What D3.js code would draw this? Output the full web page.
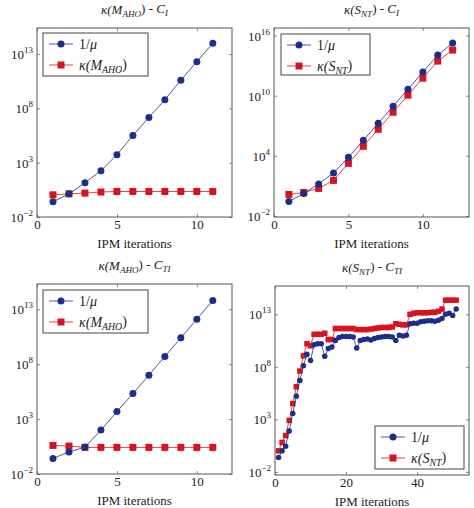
<!DOCTYPE html>
<html><head><meta charset="utf-8">
<script src="https://cdn.jsdelivr.net/npm/d3@7"></script>
<style>body{margin:0;background:#fff}text{font-family:"Liberation Serif","DejaVu Serif",serif;fill:#222}</style>
</head><body><svg id="c" width="474" height="508"></svg>
<script>
// log10 values
const itA = d3.range(1,12);
const aho_I_mu = [-0.6,0.13,1.15,2.26,3.74,5.5,7.17,8.8,10.6,12.3,14.0];
const aho_I_k  = [0.04,0.13,0.2,0.3,0.35,0.35,0.35,0.35,0.35,0.35,0.35];
const itB = d3.range(1,13);
const snt_I_mu = [-0.55,0.25,1.2,2.3,3.85,5.55,7.25,8.95,10.65,12.35,14.05,15.25];
const snt_I_k  = [0.15,0.35,0.75,1.55,3.25,4.95,6.65,8.35,10.05,11.75,13.45,14.55];
const aho_T_mu = [-0.58,0.0,0.45,2.0,3.68,5.32,7.0,8.7,10.4,12.1,13.8];
const aho_T_k  = [0.6,0.54,0.42,0.42,0.42,0.42,0.42,0.42,0.42,0.42,0.42];
const itD = d3.range(1,52);
const snt_T_mu = [-0.63,0.0,0.45,1.9,3.55,5.2,6.7,8.1,9.2,8.6,10.1,10.2,10.2,9.0,9.75,9.9,10.5,10.8,10.9,10.9,10.9,10.85,9.8,10.5,10.6,10.65,10.55,10.7,10.8,10.85,10.9,10.9,10.85,10.5,11.0,10.95,11.0,12.1,12.15,12.15,12.3,12.35,12.4,12.4,12.35,12.45,12.6,13.0,13.1,12.9,13.5];
const snt_T_k  = [0.0,0.8,1.46,2.9,4.5,6.1,7.6,9.05,10.2,10.0,11.1,11.1,11.1,11.2,10.6,10.6,11.65,11.65,11.65,11.65,11.65,11.65,11.55,11.55,11.55,11.55,11.6,11.65,11.7,11.75,11.75,11.75,11.8,12.1,12.05,12.0,12.0,13.0,13.1,13.15,13.15,13.15,13.15,13.2,13.2,13.3,13.5,14.35,14.35,14.35,14.35];

const svg = d3.select("#c");
const BLUE="#1f2d8a", RED="#d7141e";

function mathText(sel, parts){
  parts.forEach(p=>{
    const t = sel.append("tspan").text(p[0]);
    if(p[1]==='i'||p[1]==='s') t.attr("font-style","italic");
    if(p[1]==='s') t.attr("font-size","0.7em").attr("dy","0.3em");
    if(p[1]==='u') t.attr("dy","-0.3em");
  });
}
const kM=[["κ(","i"],["M","i"],["AHO","s"],[")","u"]];
const kS=[["κ(","i"],["S","i"],["NT","s"],[")","u"]];

function panel(o){
  const g = svg.append("g");
  const x = d3.scaleLinear().domain(o.xd).range([o.l,o.r]);
  const y = d3.scaleLinear().domain(o.yd).range([o.b,o.t]);
  const xt=o.xt, yt=o.yt;
  const ax = g.append("g").attr("transform",`translate(0,${o.b})`).call(d3.axisBottom(x).tickValues(xt).tickSize(-3).tickPadding(3).tickFormat(d3.format("d")));
  const axt = g.append("g").attr("transform",`translate(0,${o.t})`).call(d3.axisTop(x).tickValues(xt).tickSize(-3).tickFormat(""));
  const ay = g.append("g").attr("transform",`translate(${o.l},0)`).call(d3.axisLeft(y).tickValues(yt).tickSize(-3).tickFormat(""));
  const ayr = g.append("g").attr("transform",`translate(${o.r},0)`).call(d3.axisRight(y).tickValues(yt).tickSize(-3).tickFormat(""));
  [ax,axt,ay,ayr].forEach(a=>{a.select(".domain").remove();a.selectAll("line").attr("stroke","#888");});
  ax.selectAll("text").attr("font-size",13).attr("fill","#222").style("font-family","Liberation Serif");
  yt.forEach(v=>{
    const t=g.append("text").attr("x",o.l-4).attr("y",y(v)+5).attr("text-anchor","end").attr("font-size",13);
    t.append("tspan").text("10");
    t.append("tspan").text(v<0?"−"+(-v):v).attr("font-size",9).attr("dy",-6);
  });
  g.append("rect").attr("x",o.l).attr("y",o.t).attr("width",o.r-o.l).attr("height",o.b-o.t).attr("fill","none").attr("stroke","#555").attr("stroke-width",1);
  const line=d3.line().x((d,i)=>x(o.xs[i])).y(d=>y(d));
  const series=[[o.k,RED,"sq"],[o.mu,BLUE,"c"]];
  series.forEach(([vals,col,m])=>{
    g.append("path").attr("d",line(vals)).attr("fill","none").attr("stroke",col).attr("stroke-width",0.8);
    const s=o.ms;
    vals.forEach((v,i)=>{
      if(m==="c") g.append("circle").attr("cx",x(o.xs[i])).attr("cy",y(v)).attr("r",s/2).attr("fill",col);
      else g.append("rect").attr("x",x(o.xs[i])-s/2).attr("y",y(v)-s/2).attr("width",s).attr("height",s).attr("fill",col);
    });
  });
  const tt=g.append("text").attr("x",(o.l+o.r)/2).attr("y",o.t-14).attr("text-anchor","middle").attr("font-size",13);
  mathText(tt,o.title);
  g.append("text").attr("x",(o.l+o.r)/2).attr("y",o.b+31).attr("text-anchor","middle").attr("font-size",13).text("IPM iterations");
  const L=o.leg;
  g.append("rect").attr("x",L[0]).attr("y",L[1]).attr("width",L[2]).attr("height",L[3]).attr("fill","#fff").attr("stroke","#444");
  const rows=[[BLUE,"c",[["1/","n"],["μ","i"]]],[RED,"sq",o.lk]];
  rows.forEach((r,i)=>{
    const yy=L[1]+11+i*21, x0=L[0]+6;
    g.append("line").attr("x1",x0).attr("x2",x0+24).attr("y1",yy).attr("y2",yy).attr("stroke",r[0]).attr("stroke-width",0.8);
    if(r[1]==="c") g.append("circle").attr("cx",x0+12).attr("cy",yy).attr("r",3.5).attr("fill",r[0]);
    else g.append("rect").attr("x",x0+8.5).attr("y",yy-3.5).attr("width",7).attr("height",7).attr("fill",r[0]);
    const t=g.append("text").attr("x",x0+30).attr("y",yy+5).attr("font-size",14);
    mathText(t,r[2]);
  });
}
panel({l:37,r:232,t:28,b:217,xd:[0,12.2],yd:[-2,15.4],xt:[0,5,10],yt:[-2,3,8,13],xs:itA,mu:aho_I_mu,k:aho_I_k,ms:7,
  title:[["κ(","i"],["M","i"],["AHO","s"],[")","u"],[" - ","n"],["C","i"],["I","s"]],lk:kM,leg:[43,33,105,43]});
panel({l:274,r:469,t:28,b:217,xd:[0,13.1],yd:[-2.1,16.75],xt:[0,5,10],yt:[-2,4,10,16],xs:itB,mu:snt_I_mu,k:snt_I_k,ms:7,
  title:[["κ(","i"],["S","i"],["NT","s"],[")","u"],[" - ","n"],["C","i"],["I","s"]],lk:kS,leg:[281,34,89,41]});
panel({l:37,r:232,t:284,b:474,xd:[0,12.2],yd:[-2,15.3],xt:[0,5,10],yt:[-2,3,8,13],xs:itA,mu:aho_T_mu,k:aho_T_k,ms:7,
  title:[["κ(","i"],["M","i"],["AHO","s"],[")","u"],[" - ","n"],["C","i"],["TI","s"]],lk:kM,leg:[43,290,105,43]});
panel({l:275,r:469,t:286,b:475,xd:[0,54.6],yd:[-2.3,15.7],xt:[0,20,40],yt:[-2,3,8,13],xs:itD,mu:snt_T_mu,k:snt_T_k,ms:5.5,
  title:[["κ(","i"],["S","i"],["NT","s"],[")","u"],[" - ","n"],["C","i"],["TI","s"]],lk:kS,leg:[375,426,89,43]});
</script></body></html>
